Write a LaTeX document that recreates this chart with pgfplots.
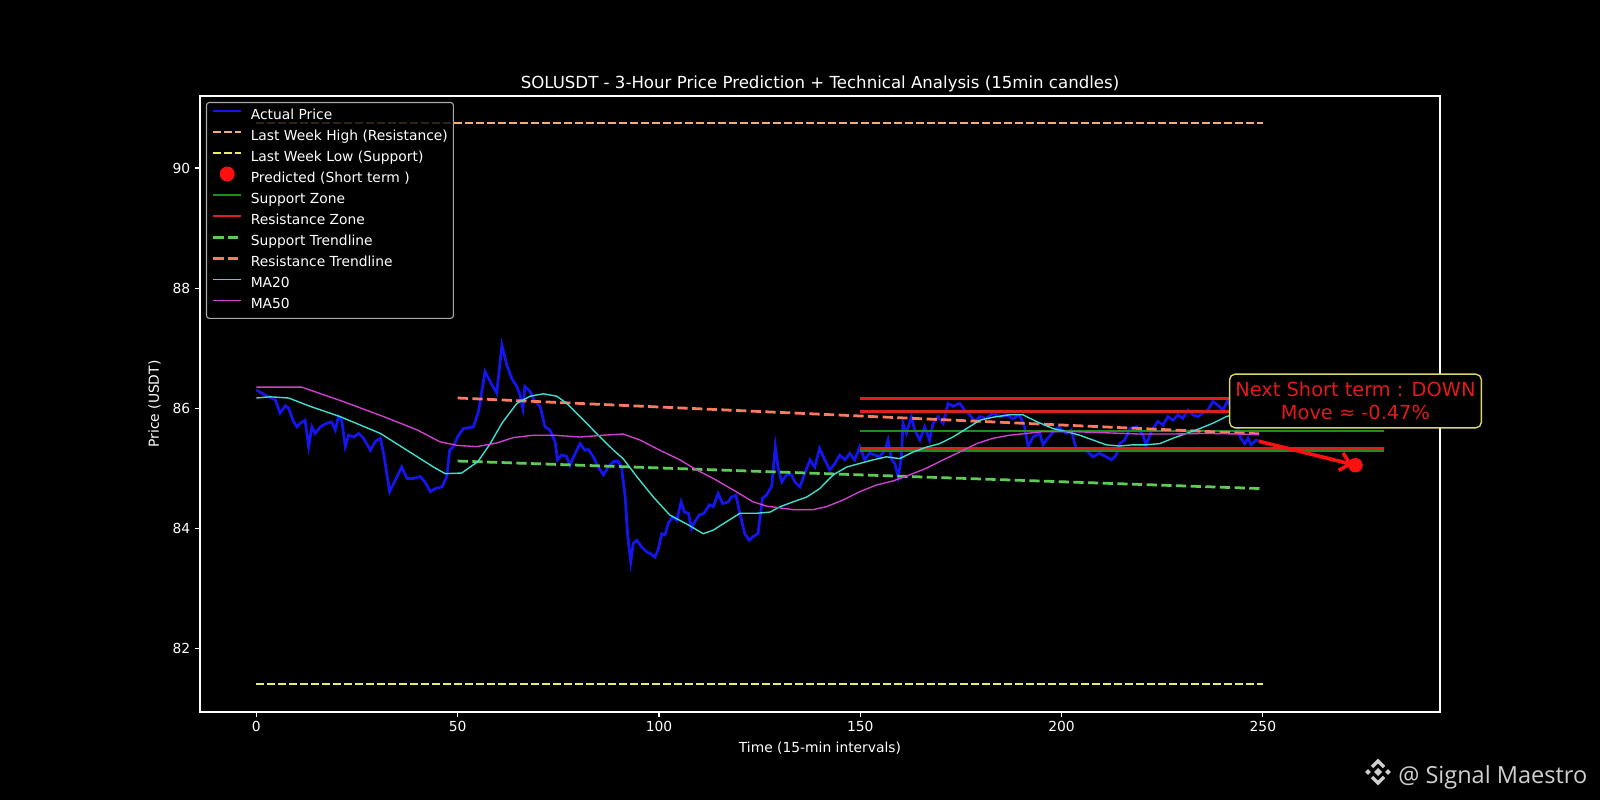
\documentclass[border=0pt]{standalone}
\usepackage{pgfplots}
\pgfplotsset{compat=1.18}
\usepackage{pgfplotstable}
\usepackage{fontspec}
\setmainfont{DejaVu Sans}
\newfontfamily\wmfont{Open Sans}
\usetikzlibrary{arrows.meta}

\definecolor{pricecol}{HTML}{1515EE}
\definecolor{highcol}{HTML}{F5AD78}
\definecolor{lowcol}{HTML}{EBEB64}
\definecolor{predcol}{HTML}{FF1010}
\definecolor{supzone}{HTML}{1E8C1E}
\definecolor{reszone}{HTML}{DC2020}
\definecolor{suptrend}{HTML}{5DCB55}
\definecolor{restrend}{HTML}{FA7B62}
\definecolor{ma20col}{HTML}{40E0D0}
\definecolor{ma50col}{HTML}{D040D0}
\definecolor{legedge}{HTML}{A8A8A8}
\definecolor{boxedge}{HTML}{D9D46E}
\definecolor{annred}{HTML}{E31A1C}
\definecolor{wmgray}{HTML}{CFCFCF}

\pgfplotstableread{
x y
0 86.30
2.2 86.22
4.7 86.14
5.9 85.92
7.2 86.04
8 86.00
9.2 85.78
10.1 85.69
10.9 85.75
12.1 85.80
13 85.36
13.8 85.69
14.6 85.58
15.9 85.69
17.5 85.75
18.7 85.77
19.6 85.64
20.4 85.86
21.2 85.80
22.1 85.36
22.9 85.55
24.2 85.52
25.4 85.58
26.6 85.50
28.3 85.30
29.5 85.44
30.8 85.50
31.6 85.25
33.1 84.61
34.5 84.80
36.1 85.02
37.4 84.83
39 84.83
40.7 84.86
41.9 84.77
43.2 84.61
44.4 84.66
46.1 84.69
47.3 84.86
48 85.30
48.9 85.36
50.2 85.55
51.4 85.66
53.9 85.69
55.2 85.95
56.8 86.61
58.1 86.44
59.7 86.25
61 87.05
62.2 86.72
63.4 86.50
64.7 86.36
65.5 86.22
66.2 86.00
66.7 86.36
68 86.28
69.2 86.11
70.5 86.03
71.7 85.69
72.9 85.64
74.2 85.44
74.8 85.14
75.8 85.22
77 85.20
77.9 85.05
79.2 85.25
80.4 85.41
81.6 85.30
82.5 85.31
83.7 85.19
84.9 85.02
86.2 84.89
87.4 85.02
88.7 85.11
89.9 85.11
90.7 85.02
91.6 84.52
92.2 83.91
93 83.44
93.6 83.75
94.5 83.80
95.7 83.69
96.9 83.61
97.8 83.58
99 83.52
99.8 83.64
100.7 83.91
101.5 83.89
102.3 84.08
103.4 84.19
104.4 84.13
105.5 84.44
106.3 84.27
107.3 84.25
108.1 84.00
108.9 84.11
110 84.22
111.2 84.25
112.5 84.39
113.5 84.36
114.7 84.58
115.8 84.41
117.2 84.44
118 84.52
119.1 84.55
120.1 84.25
121.3 83.91
122.4 83.80
123.4 83.86
124.6 83.91
125.7 84.50
126.7 84.55
128 84.70
128.9 85.36
129.6 85.00
130.5 84.77
131.7 84.89
132.9 84.89
133.8 84.77
135 84.69
136.2 84.91
137.5 85.14
138.7 85.02
139.9 85.33
141.2 85.14
142.4 84.97
143.7 85.08
144.9 85.22
146.2 85.14
147.4 85.25
148.6 85.14
149.9 85.36
151.1 85.14
152.3 85.25
153.6 85.22
154.8 85.19
156.1 85.30
156.9 85.47
157.8 85.14
158.6 85.08
159.4 84.86
160.2 85.16
160.6 85.75
161.5 85.58
162.7 85.86
163.5 85.64
164.8 85.47
166 85.69
167.2 85.47
168.1 85.75
169.3 85.86
170.6 85.75
171.8 86.08
173 86.03
174.7 86.08
175.9 85.97
177.2 85.89
178.4 85.78
179.7 85.86
181.3 85.83
183 85.92
184.6 85.86
186.3 85.88
187.9 85.83
189.6 85.88
190.8 85.69
191.7 85.36
192.9 85.52
194.6 85.58
195.4 85.39
196.6 85.50
197.9 85.60
199.3 85.69
201.2 85.58
202.4 85.64
203.7 85.30
204.9 85.33
206.6 85.27
207.8 85.19
209.4 85.25
211.1 85.19
212.4 85.14
213.6 85.22
214.4 85.41
215.7 85.47
216.9 85.66
218.6 85.69
220.2 85.55
221 85.39
222.3 85.61
223.9 85.78
225.2 85.72
226.4 85.86
227.7 85.80
228.9 85.89
230.1 85.83
231.4 85.97
232.6 85.89
233.9 85.86
235.1 85.92
236.3 85.97
237.6 86.11
238.8 86.05
240.1 85.97
241.2 86.12
242.3 86.00
243.4 85.75
244.5 85.50
245.5 85.41
246.3 85.50
247.1 85.39
248.3 85.47
249 85.45
}\pricetable

\pgfplotstableread{
x y
0 86.17
3.4 86.19
8 86.17
13.4 86.03
20.8 85.86
30.8 85.58
37.4 85.30
44 85.02
46.9 84.91
51 84.92
55 85.11
58 85.40
61 85.75
64.7 86.08
68 86.20
71.3 86.24
74.6 86.20
77.1 86.08
80.4 85.86
84.5 85.58
88.7 85.30
91.1 85.16
94.5 84.86
98.6 84.52
102.7 84.22
106.9 84.07
111 83.91
113.5 83.97
116.8 84.11
120.1 84.25
124.3 84.25
127.6 84.27
130.1 84.36
133.3 84.44
136.7 84.52
139.9 84.66
143.3 84.89
146.6 85.02
149.9 85.08
153.2 85.14
156.5 85.19
159.8 85.16
163.1 85.27
166.4 85.35
169.7 85.41
173 85.52
176.4 85.66
179.7 85.80
183 85.85
187.1 85.89
190.4 85.89
193.7 85.78
197.9 85.66
201.2 85.61
204.5 85.55
207.8 85.47
211.1 85.39
214.4 85.37
217.7 85.39
221 85.39
224.4 85.41
227.7 85.50
231 85.58
234.3 85.66
237.6 85.75
240.9 85.86
244 85.92
249 85.90
}\matwenty

\pgfplotstableread{
x y
0 86.35
11.3 86.35
21.6 86.11
31.6 85.86
39.9 85.64
45.6 85.44
50 85.38
54.7 85.36
59.7 85.42
63.8 85.51
68.8 85.55
73.8 85.55
80.4 85.52
86.2 85.55
91.1 85.57
95.3 85.47
100.2 85.30
105.2 85.14
109.4 84.97
113.5 84.83
118.4 84.64
123.4 84.44
126.7 84.37
130 84.34
133.3 84.31
138.3 84.31
141.6 84.36
145.7 84.47
149.9 84.61
154 84.72
158.2 84.79
162.3 84.89
166.4 85.00
170.6 85.14
174.7 85.27
178.9 85.41
183 85.50
187.1 85.55
191.3 85.58
195.4 85.61
202.8 85.61
211.1 85.59
219.4 85.57
227.7 85.57
236 85.58
244.2 85.57
249 85.56
}\mafifty

\begin{document}
\begin{tikzpicture}
\fill[black] (0,0) rectangle (16in,8in);
\begin{axis}[
  at={(2in,0.88in)}, anchor=south west,
  scale only axis, width=12.4in, height=6.16in,
  xmin=-14, xmax=294, ymin=80.94, ymax=91.20,
  clip mode=individual,
  axis line style={white, line width=0.8pt},
  xtick={0,50,100,150,200,250}, ytick={82,84,86,88,90},
  xtick pos=bottom, ytick pos=left,
  tick align=outside, major tick length=3.5pt,
  every tick/.style={white, line width=0.8pt},
  /pgf/number format/assume math mode=true,
  ticklabel style={font=\fontsize{10}{12}\selectfont, text=white},
  title={SOLUSDT - 3-Hour Price Prediction + Technical Analysis (15min candles)},
  title style={at={(axis description cs:0.5,1)}, anchor=base, yshift=-0.6pt, inner sep=0pt, text=white, font=\fontsize{12}{14}\selectfont},
  xlabel={Time (15-min intervals)},
  xlabel style={at={(axis description cs:0.5,0)}, anchor=base, yshift=-29.5pt, inner sep=0pt, text=white, font=\fontsize{10}{12}\selectfont},
  ylabel={Price (USDT)},
  ylabel style={at={(axis description cs:-0.0366,0.5)}, anchor=center, inner sep=0pt, text=white, font=\fontsize{10}{12}\selectfont},
  legend image code/.code={\draw[#1] (0pt,3.5pt) -- (20pt,3.5pt);},
  legend cell align=left,
  legend style={at={(rel axis cs:0,1)}, anchor=north west, xshift=4.3pt, yshift=-4.3pt,
    draw=legedge, line width=0.8pt, fill=black, fill opacity=0.8, draw opacity=1, text opacity=1,
    rounded corners=2pt, text=white, font=\fontsize{10}{12}\selectfont,
    inner xsep=4pt, inner ysep=2pt, row sep=0pt,
    /tikz/every odd column/.append style={column sep=6pt},
    nodes={inner xsep=0pt, inner ysep=2.6pt, text height=7.5pt, text depth=2.5pt}},
]
\addplot[pricecol, line width=2pt] table[x=x,y=y] {\pricetable};
\addlegendentry{Actual Price}
\addplot[highcol, line width=1.5pt, dash pattern=on 5.55pt off 2.4pt] coordinates {(0,90.75) (250,90.75)};
\addlegendentry{Last Week High (Resistance)}
\addplot[lowcol, line width=1.5pt, dash pattern=on 5.55pt off 2.4pt] coordinates {(0,81.40) (250,81.40)};
\addlegendentry{Last Week Low (Support)}
\addplot[only marks, mark=*, mark size=5pt, predcol, mark options={fill=predcol, draw=predcol},
  legend image code/.code={\draw[draw=none] (0pt,3.5pt) -- (20pt,3.5pt); \fill[predcol, fill opacity=1, overlay] (10pt,3.5pt) circle (5pt);}] coordinates {(273,85.05)};
\addlegendentry{Predicted (Short term )}
\addplot[supzone, line width=2pt] coordinates {(150,85.62) (280,85.62)};
\addlegendentry{Support Zone}
\addplot[supzone, line width=2pt, forget plot] coordinates {(150,85.29) (280,85.29)};
\addplot[reszone, line width=2pt] coordinates {(150,86.165) (280,86.165)};
\addlegendentry{Resistance Zone}
\addplot[reszone, line width=2pt, forget plot] coordinates {(150,85.94) (280,85.94)};
\addplot[reszone, line width=2pt, forget plot] coordinates {(150,85.325) (280,85.325)};
\addplot[suptrend, line width=2pt, dash pattern=on 7.4pt off 3.2pt] coordinates {(50,85.12) (250,84.66)};
\addlegendentry{Support Trendline}
\addplot[restrend, line width=2pt, dash pattern=on 7.4pt off 3.2pt] coordinates {(50,86.17) (250,85.57)};
\addlegendentry{Resistance Trendline}
\addplot[ma20col, line width=1pt] table[x=x,y=y] {\matwenty};
\addlegendentry{MA20}
\addplot[ma50col, line width=1pt] table[x=x,y=y] {\mafifty};
\addlegendentry{MA50}
\draw[predcol, line width=2.6pt, -{Straight Barb[length=7pt,width=13pt]}, shorten >=2pt] (axis cs:249,85.45) -- (axis cs:273,85.05);
\node[draw=boxedge, line width=1pt, fill=black, rounded corners=4pt, text=annred, align=center,
  font=\fontsize{14}{16.8}\selectfont, inner xsep=4.2pt, inner ysep=5.6pt] at (axis cs:273,86.12) {Next Short term : DOWN\\Move ≈ -0.47\%};
\end{axis}
% watermark
\begin{scope}[shift={(13.78in,0.28in)}, wmgray]
  \fill (0,0.04in) -- (0.04in,0) -- (0,-0.04in) -- (-0.04in,0) -- cycle;
  \fill (-0.10in,0.028in) -- (-0.072in,0) -- (-0.10in,-0.028in) -- (-0.128in,0) -- cycle;
  \fill (0.10in,0.028in) -- (0.128in,0) -- (0.10in,-0.028in) -- (0.072in,0) -- cycle;
  \draw[line width=2.4pt] (-0.06in,0.05in) -- (0,0.11in) -- (0.06in,0.05in);
  \draw[line width=2.4pt] (-0.06in,-0.05in) -- (0,-0.11in) -- (0.06in,-0.05in);
\end{scope}
\node[anchor=base west, inner sep=0pt, text=wmgray, font=\wmfont\fontsize{17}{20}\selectfont] at (13.98in,0.17in) {@ Signal Maestro};
\end{tikzpicture}
\end{document}
